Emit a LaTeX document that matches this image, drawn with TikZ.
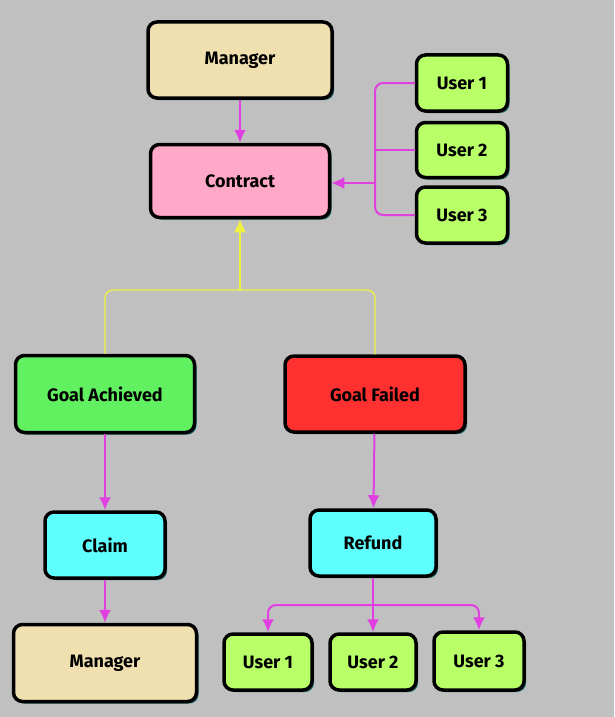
\documentclass[tikz,border=0pt]{standalone}
\usepackage{fontspec}
\setmainfont{Fira Sans}
\usetikzlibrary{arrows.meta,shadows}
\definecolor{bg}{HTML}{C0C0C0}
\definecolor{tan}{HTML}{F0E0B0}
\definecolor{pinkc}{HTML}{FFA8C8}
\definecolor{lime}{HTML}{B8FF68}
\definecolor{greenc}{HTML}{60F060}
\definecolor{redc}{HTML}{FF3030}
\definecolor{cyanc}{HTML}{60FFFF}
\definecolor{mag}{HTML}{E040E0}
\definecolor{yel}{HTML}{F0F040}
\definecolor{shad}{HTML}{207070}
\tikzset{
  box/.style={draw=black,line width=3.5pt,rounded corners=9pt,inner sep=0pt,
    font=\fontsize{18}{20}\selectfont\bfseries,
    drop shadow={shadow xshift=2pt,shadow yshift=-2pt,fill=shad,opacity=1}},
  mline/.style={draw=mag,line width=2pt,rounded corners=8pt},
  yline/.style={draw=yel,line width=1.3pt,rounded corners=8pt},
  arr/.style={-{Latex[length=13pt,width=12pt]}}
}
\begin{document}
\begin{tikzpicture}[x=1pt,y=-1pt]
\fill[bg] (0,0) rectangle (614,717);
\useasboundingbox (0,0) rectangle (614,717);
\node[box,fill=tan,minimum width=184pt,minimum height=76pt] (m1) at (240,60) {Manager};
\node[box,fill=pinkc,minimum width=179pt,minimum height=73pt] (c) at (240,181) {Contract};
\node[box,fill=lime,minimum width=91pt,minimum height=56pt] (u1) at (462,83) {User 1};
\node[box,fill=lime,minimum width=91pt,minimum height=55pt] (u2) at (462,150) {User 2};
\node[box,fill=lime,minimum width=91pt,minimum height=56pt] (u3) at (462,215) {User 3};
\node[box,fill=greenc,minimum width=179pt,minimum height=77pt] (ga) at (105,394) {Goal Achieved};
\node[box,fill=redc,minimum width=180pt,minimum height=76pt] (gf) at (375,394) {Goal Failed};
\node[box,fill=cyanc,minimum width=120pt,minimum height=66pt] (cl) at (105,545) {Claim};
\node[box,fill=cyanc,minimum width=126pt,minimum height=66pt] (rf) at (373,543) {Refund};
\node[box,fill=tan,minimum width=183pt,minimum height=77pt] (m2) at (105,663) {Manager};
\node[box,fill=lime,minimum width=88pt,minimum height=56pt] (b1) at (268,662) {User 1};
\node[box,fill=lime,minimum width=86pt,minimum height=56pt] (b2) at (373,662) {User 2};
\node[box,fill=lime,minimum width=90pt,minimum height=58pt] (b3) at (479,661) {User 3};
\coordinate (j) at (375,183);
\coordinate (jy) at (240,290);
\coordinate (jr) at (373,605);
% connectors
\draw[mline,arr,rounded corners=0] (m1) -- (c);
\draw[mline] (u1.west) -| (j);
\draw[mline] (u3.west) -| (j);
\draw[mline,rounded corners=0] (u2.west) -- (375,150);
\draw[mline,arr,rounded corners=0] (j) -- (c.east |- j);
\draw[yline] (ga.north) |- (jy);
\draw[yline] (gf.north) |- (jy);
\draw[yline,arr,rounded corners=0] (jy) -- (c.south);
\draw[mline,arr,rounded corners=0] (ga) -- (cl);
\draw[mline,arr,rounded corners=0] (cl) -- (m2);
\draw[mline,arr,rounded corners=0] (gf) -- (rf);
\draw[mline,rounded corners=0] (rf.south) -- (jr);
\draw[mline,arr] (jr) -| (b1.north);
\draw[mline,arr] (jr) -| (b3.north);
\draw[mline,arr,rounded corners=0] (jr) -- (b2.north);
\end{tikzpicture}
\end{document}
